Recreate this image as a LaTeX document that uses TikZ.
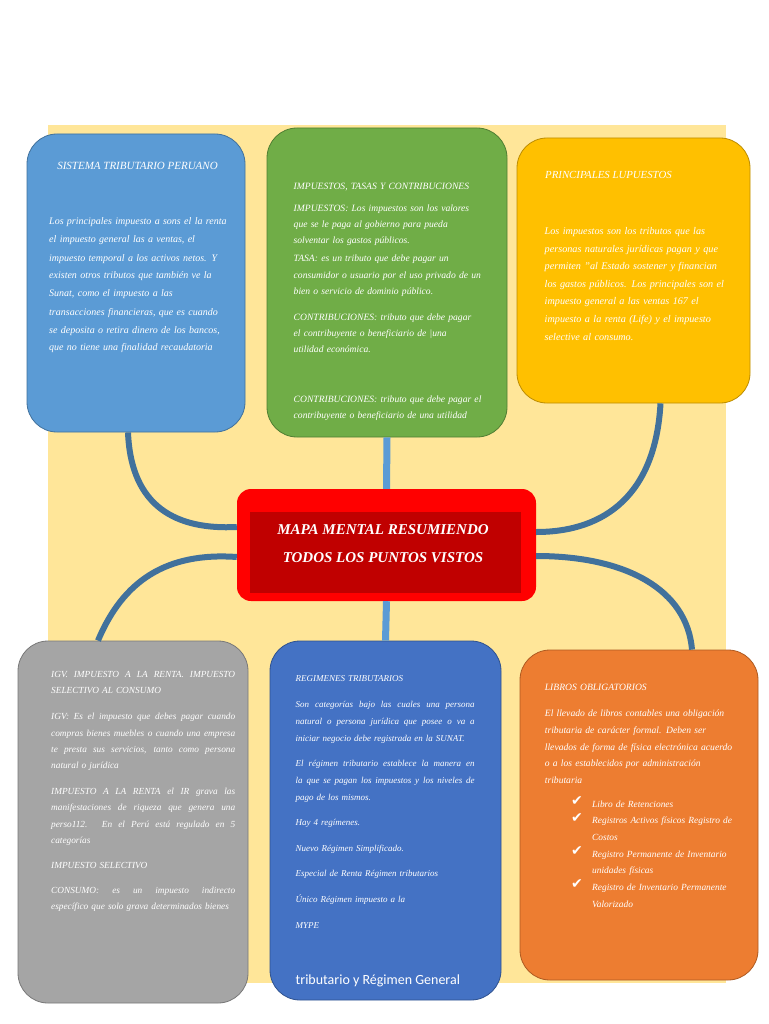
\documentclass[tikz,border=0pt]{standalone}
\usepackage{fontspec}
\setmainfont{Liberation Serif}
\newfontfamily\symfont{DejaVu Sans}
\newfontfamily\calfont{Carlito}
\usetikzlibrary{calc}

\definecolor{cream}{HTML}{FFE699}
\definecolor{sistblue}{HTML}{5B9BD5}
\definecolor{sistline}{HTML}{41719C}
\definecolor{impgreen}{HTML}{70AD47}
\definecolor{impline}{HTML}{507E32}
\definecolor{princyellow}{HTML}{FFC000}
\definecolor{princline}{HTML}{BC8C00}
\definecolor{igvgray}{HTML}{A5A5A5}
\definecolor{igvline}{HTML}{787878}
\definecolor{regblue}{HTML}{4472C4}
\definecolor{regline}{HTML}{2F528F}
\definecolor{libroorange}{HTML}{ED7D31}
\definecolor{libroline}{HTML}{AE5A21}
\definecolor{mapared}{HTML}{FF0000}
\definecolor{mapadark}{HTML}{C00000}
\definecolor{linkblue}{HTML}{41719C}
\definecolor{stemblue}{HTML}{5B9BD5}

% justified line of a given width
\newcommand\jline[2]{\makebox[#1][s]{\spaceskip=0pt\relax\xspaceskip=0pt\relax #2}}

\begin{document}
\begin{tikzpicture}[x=1pt,y=-1pt,
        box/.style={rounded corners=30pt, draw, line width=0.8pt, inner sep=0pt},
        link/.style={line width=6pt, draw=linkblue},
        stem/.style={line width=7pt, draw=stemblue},
        title/.style={text=white, inner sep=0pt, font=\fontsize{9}{16}\selectfont\itshape},
        body/.style={text=white, anchor=base west, inner sep=0pt, text width=215pt, align=left},
        tick/.style={text=white, inner sep=0pt, font=\symfont\fontsize{14}{14}\selectfont}
    ]
    \useasboundingbox (0,0) rectangle (768,1024);
    \fill[white] (0,0) rectangle (768,1024);
    \fill[cream] (48,125) rectangle (726,983);

    % boxes
    \node[box, fill=sistblue, draw=sistline, minimum width=218pt, minimum height=298pt] (sist) at (136,283) {};
    \node[box, fill=impgreen, draw=impline, minimum width=240pt, minimum height=309pt] (imp) at (387,282.5) {};
    \node[box, fill=princyellow, draw=princline, minimum width=233pt, minimum height=265pt] (princ) at (633.5,270.5) {};
    \node[box, fill=igvgray, draw=igvline, minimum width=230pt, minimum height=362pt] (igv) at (133,822) {};
    \node[box, fill=regblue, draw=regline, minimum width=231pt, minimum height=359pt] (reg) at (385.5,820.5) {};
    \node[box, fill=libroorange, draw=libroline, minimum width=238pt, minimum height=330pt] (libro) at (639,815) {};

    % center
    \node[fill=mapared, rounded corners=14pt, minimum width=299pt, minimum height=112pt, inner sep=0pt] (mapa) at (386.5,545) {};
    \node[fill=mapadark, minimum width=271pt, minimum height=81pt, inner sep=0pt] (mapain) at (385.5,552.5) {};
    \node[text=white, align=center, inner sep=0pt, font=\fontsize{15}{28}\selectfont\bfseries\itshape] (mapatxt) at (383,544)
        {MAPA MENTAL RESUMIENDO\\TODOS LOS PUNTOS VISTOS};

    % connectors
    \draw[link] ([xshift=-8pt]sist.south) .. controls +(3,75) and +(-60,3) .. ([yshift=18pt]mapa.west);
    \draw[link] ([yshift=-12pt]mapa.west) .. controls +(-70,-5) and +(25,-60) .. ([xshift=-35pt]igv.north);
    \draw[link] ([xshift=27pt]princ.south) .. controls +(-5,90) and +(70,0) .. ([yshift=13pt]mapa.east);
    \draw[link] ([yshift=-11pt]mapa.east) .. controls +(90,0) and +(-5,-60) .. ([xshift=53pt]libro.north);
    \draw[stem] (imp.south) -- (mapa.north);
    \draw[stem] (mapa.south) -- (reg.north);

    % sistema tributario
    \node[title, font=\fontsize{11}{16}\selectfont\itshape] (sistttl) at (137.5,166) {SISTEMA TRIBUTARIO PERUANO};
    \node[body, font=\fontsize{10}{18}\selectfont\itshape] (sisttxt) at (49,225)
        {Los principales impuesto a sons el la renta\\
         el impuesto general las a ventas, el\\
         impuesto temporal a los activos netos. Y\\
         existen otros tributos que también ve la\\
         Sunat, como el impuesto a las\\
         transacciones financieras, que es cuando\\
         se deposita o retira dinero de los bancos,\\
         que no tiene una finalidad recaudatoria};

    % impuestos, tasas
    \node[body, font=\fontsize{9.6}{16.3}\selectfont\itshape] (imptxt) at (293.5,190)
        {IMPUESTOS, TASAS Y CONTRIBUCIONES\\[5pt]
         IMPUESTOS: Los impuestos son los valores\\
         que se le paga al gobierno para pueda\\
         solventar los gastos públicos.\\[1.7pt]
         TASA: es un tributo que debe pagar un\\
         consumidor o usuario por el uso privado de un\\
         bien o servicio de dominio público.\\[9.3pt]
         CONTRIBUCIONES: tributo que debe pagar\\
         el contribuyente o beneficiario de |una\\
         utilidad económica.\\[33pt]
         CONTRIBUCIONES: tributo que debe pagar el\\
         contribuyente o beneficiario de una utilidad};

    % principales impuestos
    \node[title, anchor=base west, font=\fontsize{10.8}{16}\selectfont\itshape] (princttl) at (545,179) {PRINCIPALES LUPUESTOS};
    \node[body, font=\fontsize{10.2}{17.5}\selectfont\itshape] (princtxt) at (544.5,235)
        {Los impuestos son los tributos que las\\
         personas naturales jurídicas pagan y que\\
         permiten "al Estado sostener y financian\\
         los gastos públicos. Los principales son el\\
         impuesto general a las ventas 167 el\\
         impuesto a la renta (Life) y el impuesto\\
         selective al consumo.};

    % igv
    \node[body, font=\fontsize{9.3}{16.2}\selectfont\itshape] (igvtxt) at (51,677.5)
        {\jline{184pt}{IGV. IMPUESTO A LA RENTA. IMPUESTO}\\
         SELECTIVO AL CONSUMO\\[10pt]
         \jline{184pt}{IGV: Es el impuesto que debes pagar cuando}\\
         \jline{184pt}{compras bienes muebles o cuando una empresa}\\
         \jline{184pt}{te presta sus servicios, tanto como persona}\\
         natural o jurídica\\[10pt]
         \jline{184pt}{IMPUESTO A LA RENTA el IR grava las}\\
         \jline{184pt}{manifestaciones de riqueza que genera una}\\
         \jline{184pt}{perso112. En el Perú está regulado en 5}\\
         categorías\\[8.8pt]
         IMPUESTO SELECTIVO\\[8.8pt]
         \jline{184pt}{CONSUMO: es un impuesto indirecto}\\
         específico que solo grava determinados bienes};

    % regimenes
    \node[body, font=\fontsize{9}{16.8}\selectfont\itshape] (regtxt) at (295.5,681.5)
        {REGIMENES TRIBUTARIOS\\[9.2pt]
         \jline{179pt}{Son categorías bajo las cuales una persona}\\
         \jline{179pt}{natural o persona jurídica que posee o va a}\\
         iniciar negocio debe registrada en la SUNAT.\\[8.9pt]
         \jline{179pt}{El régimen tributario establece la manera en}\\
         \jline{179pt}{la que se pagan los impuestos y los niveles de}\\
         pago de los mismos.\\[8.2pt]
         Hay 4 regímenes.\\[9pt]
         Nuevo Régimen Simplificado.\\[8.9pt]
         Especial de Renta Régimen tributarios\\[8.9pt]
         Único Régimen impuesto a la\\[8.9pt]
         MYPE};
    \node[text=white, anchor=base west, inner sep=0pt, font=\calfont\fontsize{14}{16}\selectfont] (regend) at (295.5,984)
        {tributario y Régimen General};

    % libros
    \node[body, font=\fontsize{9.6}{16.7}\selectfont\itshape] (librotxt) at (544.7,690)
        {LIBROS OBLIGATORIOS\\[9.9pt]
         El llevado de libros contables una obligación\\
         tributaria de carácter formal. Deben ser\\
         llevados de forma de física electrónica acuerdo\\
         o a los establecidos por administración\\
         tributaria};
    \node[body, text width=150pt, font=\fontsize{9.4}{16.7}\selectfont\itshape] (librolst) at (592,807)
        {Libro de Retenciones\\
         Registros Activos físicos Registro de\\
         Costos\\
         Registro Permanente de Inventario\\
         unidades físicas\\
         Registro de Inventario Permanente\\
         Valorizado};
    \node[tick] (tick1) at (577,801) {✔};
    \node[tick] (tick2) at (577,818) {✔};
    \node[tick] (tick3) at (577,851) {✔};
    \node[tick] (tick4) at (577,884) {✔};
\end{tikzpicture}
\end{document}
